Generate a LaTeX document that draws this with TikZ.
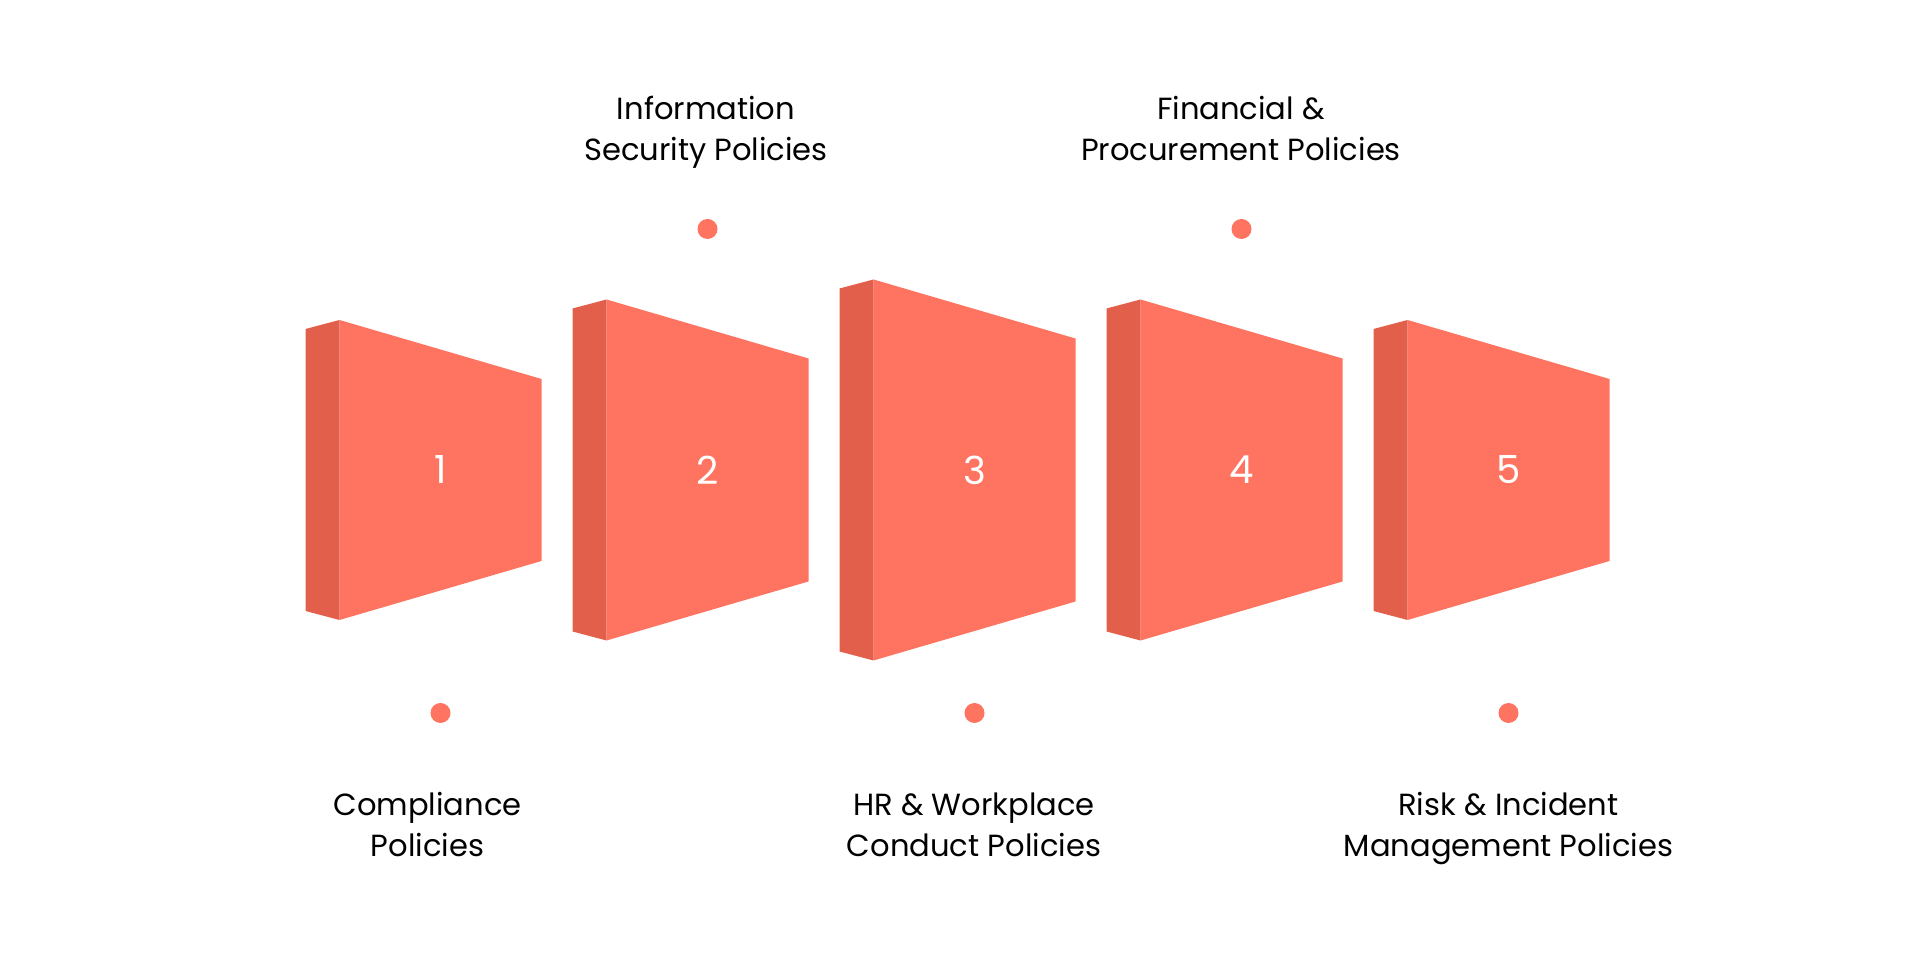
\documentclass[tikz,border=0pt]{standalone}
\usepackage{fontspec}
\setmainfont{Poppins}
\usepackage{tikz}
\definecolor{coral}{HTML}{FF7461}
\definecolor{coraldark}{HTML}{E25F4B}

\begin{document}
\begin{tikzpicture}[x=1cm, y=-1cm,
    face/.style={fill=coral},
    side/.style={fill=coraldark},
    num/.style={text=white, font=\fontsize{11}{13}\selectfont},
    dot/.style={circle, fill=coral, minimum size=0.2cm, inner sep=0pt},
    label/.style={align=center, anchor=base, inner sep=0pt, font=\fontsize{8.7}{11.85}\selectfont}]
                % Frame
                \useasboundingbox (0, 0) rectangle (19.17, 9.54);

                % Blocks
                \foreach \i/\h in {1/1.50, 2/1.705, 3/1.905, 4/1.705, 5/1.50} {
                    \pgfmathsetmacro{\bx}{3.055 + 2.67*(\i - 1)}
                    \fill[side] (\bx, 4.70 - \h + 0.09) -- (\bx + 0.34, 4.70 - \h) -- (\bx + 0.34, 4.70 + \h) -- (\bx, 4.70 + \h - 0.09) -- cycle;
                    \fill[face] (\bx + 0.34, 4.70 - \h) -- (\bx + 2.36, 4.70 - \h + 0.59) -- (\bx + 2.36, 4.70 + \h - 0.59) -- (\bx + 0.34, 4.70 + \h) -- cycle;
                    \node[num] (n\i) at (\bx + 1.35, 4.70) {\i};
                }

                % Dots
                \node[dot] (d1) at (4.405, 7.13) {};
                \node[dot] (d2) at (7.075, 2.29) {};
                \node[dot] (d3) at (9.745, 7.13) {};
                \node[dot] (d4) at (12.415, 2.29) {};
                \node[dot] (d5) at (15.085, 7.13) {};

                % Labels (anchored on the last line)
                \node[label] (l1) at (4.275, 8.567) {Compliance\\Policies};
                \node[label] (l2) at (7.06, 1.61) {Information\\Security Policies};
                \node[label] (l3) at (9.74, 8.567) {HR \& Workplace\\Conduct Policies};
                \node[label] (l4) at (12.41, 1.61) {Financial \&\\Procurement Policies};
                \node[label] (l5) at (15.085, 8.567) {Risk \& Incident\\Management Policies};
            \end{tikzpicture}
\end{document}
